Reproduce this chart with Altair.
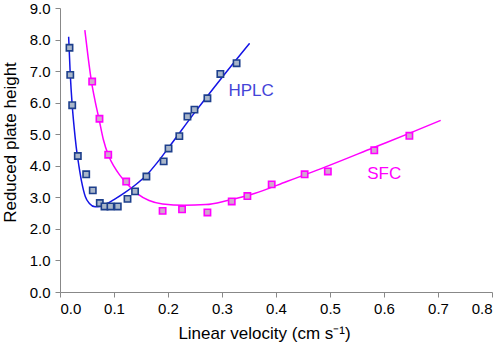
import altair as alt
import pandas as pd

# HPLC measured points
hplc_u = [0.0176, 0.019, 0.0226, 0.033, 0.0485, 0.0607, 0.0737, 0.0824, 0.0935, 0.107,
          0.125, 0.139, 0.160, 0.192, 0.201, 0.221, 0.236, 0.249, 0.273, 0.297, 0.327]
hplc_h = [7.74, 6.88, 5.92, 4.31, 3.73, 3.22, 2.82, 2.71, 2.71, 2.71,
          2.95, 3.19, 3.66, 4.14, 4.55, 4.94, 5.56, 5.78, 6.14, 6.91, 7.25]
# HPLC fitted curve
hplc_fit_u = [0.016, 0.019, 0.0226, 0.026, 0.030, 0.035, 0.040, 0.047, 0.055, 0.065,
              0.075, 0.087, 0.100, 0.120, 0.140, 0.160, 0.180, 0.200, 0.250, 0.300, 0.351]
hplc_fit_h = [8.09, 6.90, 5.92, 5.25, 4.60, 4.00, 3.50, 3.02, 2.80, 2.70,
              2.71, 2.80, 2.93, 3.15, 3.40, 3.70, 4.10, 4.55, 5.70, 6.80, 7.88]

# SFC measured points
sfc_u = [0.0596, 0.0731, 0.0893, 0.1226, 0.190, 0.226, 0.273, 0.318, 0.347, 0.392,
         0.453, 0.496, 0.582, 0.647]
sfc_h = [6.67, 5.49, 4.35, 3.50, 2.57, 2.62, 2.52, 2.87, 3.04, 3.41,
         3.73, 3.82, 4.49, 4.95]
# SFC fitted curve
sfc_fit_u = [0.046, 0.052, 0.058, 0.065, 0.072, 0.080, 0.090, 0.100, 0.110, 0.124,
             0.143, 0.165, 0.190, 0.230, 0.270, 0.310, 0.360, 0.420, 0.500, 0.580,
             0.650, 0.705]
sfc_fit_h = [8.30, 7.45, 6.70, 6.05, 5.50, 4.85, 4.32, 3.98, 3.72, 3.43,
             3.12, 2.90, 2.79, 2.75, 2.77, 2.90, 3.12, 3.50, 4.02, 4.57,
             5.05, 5.44]

label_text = ["HPLC", "SFC"]
label_u = [0.312, 0.569]
label_h = [6.38, 3.73]

x_ticks = [0.0, 0.1, 0.2, 0.3, 0.4, 0.5, 0.6, 0.7, 0.8]
y_ticks = [0.0, 1.0, 2.0, 3.0, 4.0, 5.0, 6.0, 7.0, 8.0, 9.0]

FONT = "Liberation Sans"

xs = alt.Scale(domain=[0, 0.8], nice=False, zero=True)
ys = alt.Scale(domain=[0, 9], nice=False, zero=True)

xax = alt.Axis(values=x_ticks, format=".1f", title="Linear velocity (cm s⁻¹)",
               grid=False, titleX=204, titleY=41, titleBaseline="middle",
               titleAlign="center", labelPadding=4)
yax = alt.Axis(values=y_ticks, format=".1f", title="Reduced plate height",
               grid=False, titleX=-50, titleY=134, titleAngle=-90,
               titleBaseline="middle", titleAlign="center", labelPadding=5)

hplc_pts = pd.DataFrame({"u": hplc_u, "h": hplc_h})
hplc_fit = pd.DataFrame({"u": hplc_fit_u, "h": hplc_fit_h})
sfc_pts = pd.DataFrame({"u": sfc_u, "h": sfc_h})
sfc_fit = pd.DataFrame({"u": sfc_fit_u, "h": sfc_fit_h})
labels = pd.DataFrame({"t": label_text, "u": label_u, "h": label_h,
                       "c": ["#4444d8", "#ff00ff"]})

X = alt.X("u:Q", scale=xs, axis=xax)
Y = alt.Y("h:Q", scale=ys, axis=yax)

hplc_line = alt.Chart(hplc_fit).mark_line(color="#1414e6", strokeWidth=1.5,
                                          interpolate="monotone").encode(x=X, y=Y)
sfc_line = alt.Chart(sfc_fit).mark_line(color="#ff00ff", strokeWidth=1.5,
                                        interpolate="monotone").encode(x=X, y=Y)
hplc_mark = alt.Chart(hplc_pts).mark_point(shape="square", filled=True, size=40,
                                           fill="#a9b6c9", stroke="#1d3f8c",
                                           strokeWidth=1.6, opacity=1).encode(x=X, y=Y)
sfc_mark = alt.Chart(sfc_pts).mark_point(shape="square", filled=True, size=40,
                                         fill="#d0a8cc", stroke="#ff00ff",
                                         strokeWidth=1.6, opacity=1).encode(x=X, y=Y)
text = alt.Chart(labels).mark_text(align="left", baseline="middle", fontSize=17,
                                   font=FONT).encode(
    x=X, y=Y, text="t:N", color=alt.Color("c:N", scale=None))

chart = alt.layer(hplc_line, sfc_line, hplc_mark, sfc_mark, text).properties(
    width=432, height=284,
    autosize=alt.AutoSizeParams(type="none"),
    padding={"left": 60, "top": 8, "right": 12, "bottom": 52},
    background="white",
).configure_view(stroke=None).configure_axis(
    domainColor="#888888", tickColor="#888888", tickSize=5,
    labelFont=FONT, labelFontSize=15, labelColor="#000000",
    titleFont=FONT, titleFontSize=17, titleColor="#000000", titleFontWeight="normal",
)

chart.save("out.html", embed_options={"renderer": "svg", "actions": False})
